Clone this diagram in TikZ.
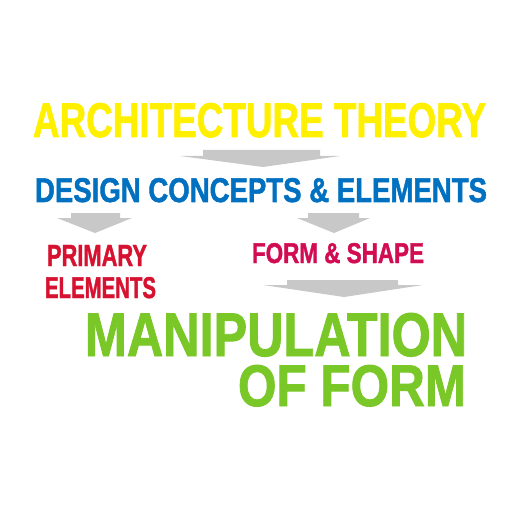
\documentclass[tikz,border=0pt]{standalone}
\usepackage{fontspec}
\setmainfont{Liberation Sans}
\newfontfamily\heavyfont[UprightFont=* Bold, FakeBold=1.6]{Liberation Sans}
\usepackage{graphicx}
\definecolor{cyellow}{RGB}{255,240,0}
\definecolor{cblue}{RGB}{0,112,192}
\definecolor{cred}{RGB}{214,18,48}
\definecolor{ccrim}{RGB}{210,12,82}
\definecolor{cgreen}{RGB}{122,199,40}
\definecolor{cgray}{RGB}{200,200,200}
\tikzset{
  lbl/.style={inner sep=0pt, outer sep=0pt, anchor=base west},
  flow/.style={fill=cgray, draw=none},
}
\newcommand{\fit}[3]{\raisebox{0pt}[\height][0pt]{\resizebox{#1bp}{#2bp}{\heavyfont #3}}}
\begin{document}
\begin{tikzpicture}[x=1bp,y=-1bp]
\useasboundingbox[fill=white] (0,0) rectangle (510,510);
% texts
\node[lbl, text=cyellow] (theory) at (33,137) {\fit{453}{34}{ARCHITECTURE THEORY}};
\node[lbl, text=cblue] (design) at (35,202) {\fit{452}{24}{DESIGN CONCEPTS \& ELEMENTS}};
\node[lbl, text=cred] (primary) at (47,266) {\fit{100}{21}{PRIMARY}};
\node[lbl, text=cred] (elements) at (45,298) {\fit{111}{21}{ELEMENTS}};
\node[lbl, text=ccrim] (formshape) at (252,263) {\fit{172}{20}{FORM \& SHAPE}};
\node[lbl, text=cgreen] (manip) at (85,356) {\fit{382}{43}{MANIPULATION}};
\node[lbl, text=cgreen] (ofform) at (238,406) {\fit{228}{41}{OF FORM}};
% arrows
\fill[flow] (203,150) -- (320,150) -- (320,156) -- (340,156) -- (263,167) -- (180,156) -- (203,156) -- cycle;
\fill[flow] (71,213) -- (120,213) -- (120,218) -- (132,218) -- (95,233) -- (57,218) -- (71,218) -- cycle;
\fill[flow] (308,213) -- (359,213) -- (359,218) -- (370,218) -- (334,233) -- (297,218) -- (308,218) -- cycle;
\fill[flow] (287,280) -- (398,280) -- (398,285) -- (423,285) -- (344,297) -- (263,285) -- (287,285) -- cycle;
\end{tikzpicture}
\end{document}
